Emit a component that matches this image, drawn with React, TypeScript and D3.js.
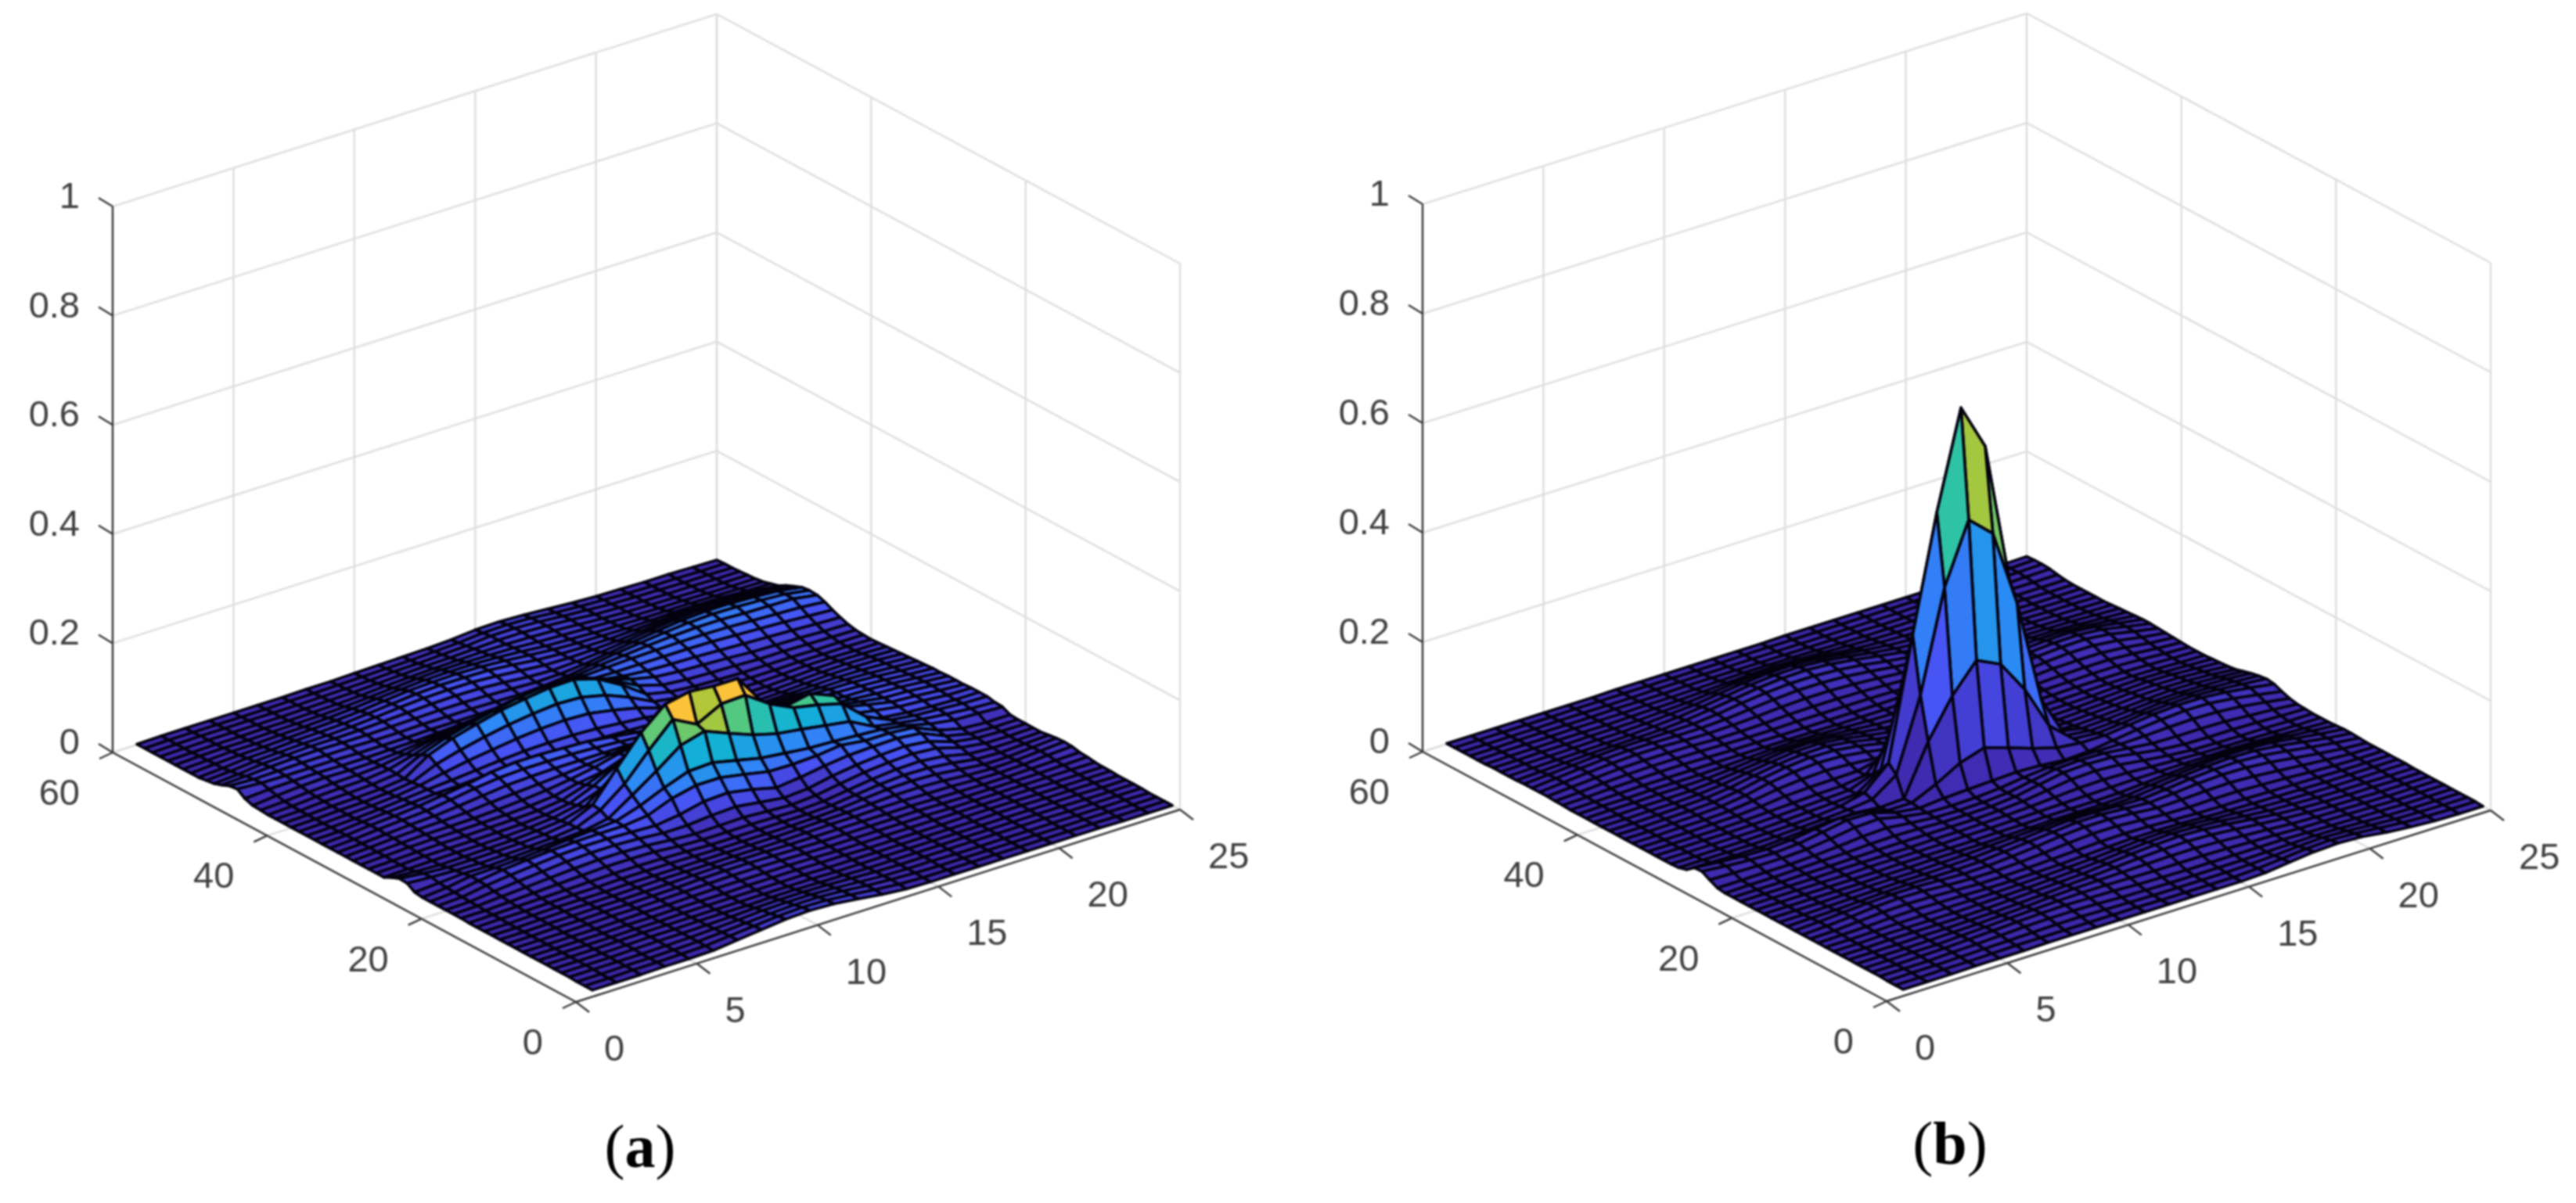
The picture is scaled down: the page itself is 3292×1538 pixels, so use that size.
import React, { useEffect, useRef } from 'react';
import * as d3 from 'd3';

const xTicks = [0, 5, 10, 15, 20, 25];
const yTicks = [0, 20, 40, 60];
const zTicks = [0, 0.2, 0.4, 0.6, 0.8, 1];

// surface heights in thousandths, first row is y = 60, last row is y = 1, columns are x = 1..25
const surfaceA = [
  [1,2,2,2,2,2,2,3,3,4,5,6,7,9,13,14,12,9,6,4,3,2,2,1,0],
  [1,2,2,2,2,2,3,3,4,5,6,7,9,11,15,16,14,10,7,5,3,2,2,1,1],
  [1,2,3,3,3,3,3,4,5,6,8,9,11,13,17,17,15,11,8,5,4,3,2,2,1],
  [1,2,3,3,3,3,4,5,6,8,10,12,13,15,17,17,15,12,8,6,4,3,3,2,2],
  [1,2,3,3,4,4,5,6,8,11,13,15,16,17,17,16,14,11,8,6,5,4,3,3,3],
  [1,3,4,4,5,6,7,9,12,15,18,20,20,19,18,15,13,11,9,7,6,6,5,4,4],
  [1,3,5,5,7,8,10,13,17,20,23,24,24,22,19,15,13,11,10,9,9,9,8,7,6],
  [1,4,6,7,9,11,13,16,21,25,27,28,27,24,20,16,14,13,12,13,14,14,13,11,10],
  [1,4,8,9,12,13,15,19,23,27,29,29,28,24,19,16,15,15,17,19,22,22,20,18,14],
  [3,6,10,12,14,15,17,20,24,27,28,28,25,21,17,16,17,19,23,27,30,31,29,26,22],
  [5,8,13,15,17,17,18,20,22,24,25,24,21,17,15,17,20,25,31,36,39,39,37,34,28],
  [10,12,15,17,18,17,17,18,19,20,20,19,17,15,16,20,26,32,38,43,46,46,44,41,34],
  [16,14,15,16,16,16,15,15,16,16,16,15,14,16,20,27,33,38,43,47,49,48,46,43,36],
  [18,15,14,14,14,13,13,13,14,14,14,15,18,22,28,33,37,41,44,46,46,44,43,42,35],
  [8,11,12,13,12,12,13,14,16,18,22,26,30,33,35,37,39,40,41,41,40,38,36,34,30],
  [3,7,10,12,11,12,15,20,26,31,34,36,38,38,37,36,36,36,36,35,33,31,29,26,23],
  [2,4,7,9,10,13,20,30,38,44,50,52,52,49,43,36,32,30,29,27,25,23,21,19,17],
  [1,3,6,8,9,14,26,40,51,60,68,71,71,66,53,38,28,24,22,20,17,16,15,13,12],
  [1,2,5,6,8,13,34,50,62,72,81,86,86,76,57,34,21,17,15,14,12,12,11,10,9],
  [1,2,4,5,7,12,41,58,70,81,88,94,95,82,57,26,16,12,10,9,9,9,8,8,8],
  [1,2,4,5,8,13,32,44,54,62,68,72,70,60,42,20,13,10,8,7,7,8,8,8,7],
  [1,2,4,6,9,15,24,32,38,44,48,50,48,40,30,16,11,8,7,6,7,9,9,8,8],
  [1,2,4,7,11,15,18,22,26,29,30,30,28,24,20,13,9,7,6,6,8,10,11,10,9],
  [1,2,6,9,12,15,16,19,21,22,22,21,20,18,16,11,9,7,7,8,10,12,13,12,10],
  [1,3,7,10,14,20,26,34,38,38,36,34,28,22,18,13,11,10,10,11,13,15,15,14,11],
  [1,3,7,10,13,19,26,31,33,33,32,30,27,23,18,15,14,14,15,16,17,18,17,15,12],
  [1,3,6,9,11,15,20,25,27,28,28,28,28,27,25,24,23,23,22,22,21,21,19,16,13],
  [1,3,6,8,9,11,15,18,21,24,28,33,38,41,41,40,38,34,30,27,25,24,21,17,14],
  [1,3,5,7,7,8,10,13,17,23,31,42,50,54,56,52,46,40,34,30,27,25,22,18,15],
  [1,3,5,6,6,7,8,10,14,24,30,45,60,65,70,65,55,45,35,30,27,26,23,19,15],
  [1,2,4,5,5,6,7,9,14,28,45,65,80,85,90,80,70,65,45,34,30,26,24,20,16],
  [1,2,4,4,4,5,6,9,16,34,60,90,100,110,110,95,80,80,65,40,33,26,24,20,16],
  [1,2,3,4,4,5,7,11,20,36,70,110,130,135,135,100,85,90,75,45,35,26,23,19,16],
  [8,5,3,4,5,6,9,13,25,60,112,155,168,168,165,115,95,100,85,40,32,25,22,18,17],
  [14,9,6,6,7,8,10,16,36,89,140,178,187,183,183,127,104,113,95,37,27,22,19,17,17],
  [13,10,8,7,8,9,11,16,34,68,115,158,135,158,160,130,109,100,88,50,30,24,21,18,17],
  [4,7,10,9,11,13,15,18,26,55,85,118,130,112,95,83,77,70,63,40,32,25,20,16,14],
  [2,6,13,14,16,19,23,26,29,43,62,78,80,70,60,55,50,48,45,42,35,24,17,15,13],
  [2,5,12,18,22,25,27,28,28,33,50,60,60,52,43,42,44,49,43,43,39,20,9,6,6],
  [2,4,11,16,20,24,26,26,24,22,28,38,40,32,21,26,33,38,40,41,36,17,7,5,5],
  [2,3,8,12,16,20,22,22,20,16,16,20,22,16,10,13,22,28,32,34,29,14,7,5,5],
  [2,3,6,9,12,15,17,17,15,11,8,9,10,7,5,8,15,22,26,28,24,11,5,4,5],
  [2,2,4,6,8,10,12,12,11,7,5,5,5,4,3,5,11,17,21,22,17,7,4,4,5],
  [1,2,3,4,5,6,7,7,6,5,3,3,3,3,3,5,10,15,18,17,12,5,3,5,7],
  [1,2,2,3,4,4,5,5,5,4,3,3,3,3,4,6,10,14,15,13,8,3,3,6,9],
  [1,1,2,3,3,3,4,4,4,4,4,4,4,5,6,7,9,11,11,9,5,3,4,7,10],
  [1,1,2,3,3,3,4,5,5,5,5,5,5,6,7,7,8,8,7,6,4,3,4,7,9],
  [1,1,2,2,3,3,4,5,6,7,7,7,6,6,6,6,6,6,5,4,3,3,4,5,6],
  [1,1,2,2,3,3,4,5,7,8,8,7,6,5,5,5,5,5,4,3,3,3,3,4,5],
  [1,1,1,2,3,3,4,5,6,7,7,6,5,4,4,4,4,4,3,3,3,3,3,3,3],
  [1,1,1,1,2,3,3,4,5,5,5,5,4,3,3,3,3,3,3,3,3,3,2,2,2],
  [1,1,1,1,2,2,3,3,3,4,4,4,3,3,2,2,2,2,3,3,3,2,2,2,2],
  [1,1,1,1,2,2,3,3,3,3,3,3,2,2,2,2,2,2,2,3,3,2,2,2,1],
  [1,1,1,2,3,3,3,3,3,3,3,3,2,2,2,2,2,2,2,2,2,2,2,1,1],
  [1,1,1,2,3,3,4,4,4,5,5,4,3,2,2,2,2,2,2,2,2,2,1,1,1],
  [1,1,1,2,3,3,4,5,7,8,8,7,5,3,2,2,2,2,2,2,2,1,1,1,1],
  [1,1,1,1,2,3,5,7,10,11,11,9,6,3,2,2,1,1,1,1,1,1,1,1,0],
  [0,0,1,1,2,3,6,9,12,14,14,11,7,4,2,1,1,1,1,1,1,1,1,0,0],
  [0,0,1,1,2,3,7,11,15,17,16,12,7,3,1,1,1,1,1,1,1,1,0,0,0],
  [0,0,0,1,1,2,7,12,17,19,17,12,6,2,1,1,1,1,1,1,1,1,0,0,0],
];

const surfaceB = [
  [1,1,1,1,1,1,1,2,2,2,2,2,2,2,3,3,3,3,3,3,3,4,5,7,8],
  [1,1,1,1,1,2,2,2,2,2,2,2,3,3,3,3,3,3,3,3,4,5,6,8,9],
  [1,1,1,1,2,2,2,2,3,3,3,3,3,3,3,3,3,3,3,4,4,5,7,8,9],
  [1,1,2,2,2,2,3,3,3,4,4,4,4,4,4,4,4,3,3,4,4,5,6,7,8],
  [1,2,2,2,3,3,3,4,4,5,6,7,7,7,6,5,4,4,4,4,4,4,5,5,5],
  [1,2,2,3,3,3,4,5,6,8,10,12,13,12,10,8,6,5,4,4,3,3,3,3,3],
  [2,2,3,3,4,4,5,7,9,13,17,20,21,19,15,11,8,6,5,4,3,3,3,2,2],
  [2,3,3,4,5,5,7,10,13,19,24,28,29,26,21,15,10,7,5,4,3,3,2,2,2],
  [2,3,4,5,6,7,9,12,17,23,29,33,34,31,25,18,12,8,6,5,4,3,3,2,2],
  [2,4,6,8,9,10,11,14,19,25,31,35,36,33,27,20,13,9,7,6,5,4,3,3,2],
  [3,6,9,12,14,14,14,15,19,25,30,33,33,30,25,18,12,9,8,7,6,5,4,3,2],
  [3,7,11,14,16,16,15,15,17,21,25,28,28,26,21,15,11,9,8,8,7,6,5,4,3],
  [3,7,11,14,16,16,14,13,14,16,19,21,21,19,16,12,9,9,9,10,10,9,8,6,4],
  [3,6,9,12,13,13,12,10,10,11,13,14,14,13,11,9,8,9,11,13,14,13,11,8,5],
  [2,4,7,9,10,10,9,8,7,7,8,8,8,8,7,7,8,10,14,17,19,19,16,11,6],
  [2,3,5,6,7,7,6,5,5,4,4,4,4,4,5,6,8,12,17,21,24,25,21,14,7],
  [1,2,3,4,4,4,4,4,4,4,4,3,3,3,4,6,9,13,19,24,27,28,24,15,7],
  [1,2,2,3,3,3,4,6,8,9,8,6,4,3,4,6,9,14,19,24,27,28,23,14,6],
  [1,2,2,3,3,4,7,11,14,15,13,9,5,3,3,5,8,12,17,21,24,24,19,11,5],
  [1,1,2,2,3,6,11,16,21,22,18,12,6,3,3,4,6,10,14,17,18,18,14,8,4],
  [1,1,2,2,4,8,15,21,26,27,22,14,7,3,3,3,5,7,10,12,13,13,10,6,3],
  [1,1,2,3,5,10,18,25,29,30,24,15,7,4,3,3,4,5,7,8,9,9,7,4,2],
  [1,1,2,3,5,11,20,27,31,30,24,15,8,4,3,3,3,4,5,6,6,6,5,3,2],
  [1,1,2,3,5,11,20,26,29,27,21,13,8,5,3,3,3,3,4,5,6,6,5,3,2],
  [1,1,2,2,4,9,16,20,22,20,16,14,25,20,10,4,3,3,4,5,7,8,7,5,3],
  [1,1,1,2,3,6,11,13,14,15,25,45,60,50,25,8,4,4,5,7,9,11,10,7,4],
  [1,1,1,1,2,4,6,8,9,15,60,120,160,140,70,15,5,5,7,9,12,13,12,9,5],
  [1,1,1,1,2,3,5,7,9,25,120,250,330,300,160,35,8,7,9,11,14,15,14,11,7],
  [1,1,1,1,1,3,5,7,10,40,207,400,550,500,300,70,12,9,11,13,16,18,17,14,11],
  [1,1,1,1,2,3,5,9,20,60,280,490,667,583,325,110,20,12,14,17,20,21,20,18,15],
  [2,2,2,2,3,5,7,10,15,46,177,360,470,431,290,100,20,15,17,21,25,26,24,21,18],
  [6,5,4,4,6,9,12,12,8,10,100,170,221,200,140,60,22,18,22,27,30,31,28,24,20],
  [17,13,10,9,12,18,24,22,10,10,30,55,69,55,40,27,22,22,27,32,35,35,31,25,18],
  [18,14,11,10,13,20,28,27,14,8,12,14,16,18,16,12,14,20,26,30,33,32,27,20,12],
  [10,9,8,8,10,15,22,24,14,7,6,7,10,16,20,22,22,21,22,24,25,24,20,14,7],
  [3,3,4,4,6,9,13,15,10,6,5,6,9,17,25,27,26,21,16,15,15,14,11,8,4],
  [1,2,2,3,4,5,7,8,7,5,5,6,10,18,26,28,26,19,12,8,7,7,6,4,3],
  [1,1,1,2,2,3,4,4,4,4,4,6,9,15,21,23,20,14,9,5,4,3,3,2,2],
  [1,1,1,1,2,2,2,2,3,3,4,5,7,10,13,14,13,10,8,6,5,4,3,2,2],
  [1,1,1,1,1,2,2,2,2,3,3,4,5,6,7,8,9,9,9,9,9,8,6,4,2],
  [1,1,1,1,1,1,2,2,2,2,3,3,4,4,4,5,8,11,14,16,16,15,11,7,3],
  [1,1,1,1,1,2,2,3,3,3,4,5,6,6,6,8,13,17,21,24,24,21,15,9,4],
  [1,1,1,2,3,3,3,4,5,7,9,11,13,13,11,13,18,23,27,29,28,23,16,9,4],
  [1,1,2,3,4,5,5,6,7,10,13,17,20,20,18,17,21,26,29,30,27,21,14,8,3],
  [1,2,3,5,7,8,7,7,8,12,16,20,24,24,21,18,21,25,27,26,22,16,10,5,2],
  [1,3,6,9,11,11,9,7,8,11,15,20,23,23,20,16,17,19,20,18,14,10,6,3,2],
  [1,3,6,10,12,11,8,6,6,8,11,15,18,18,15,12,11,12,12,10,8,5,3,2,2],
  [1,2,5,8,9,8,6,4,4,5,7,9,11,12,11,9,7,6,6,5,4,3,2,2,2],
  [1,2,3,5,6,5,4,3,3,4,5,7,9,11,11,10,8,6,5,4,3,2,2,2,2],
  [1,1,2,3,3,3,3,3,4,5,7,9,12,15,16,15,12,9,6,4,3,2,2,2,2],
  [1,1,2,2,2,2,3,4,5,7,9,12,16,19,21,19,16,11,7,5,3,2,2,1,1],
  [1,1,2,2,2,2,3,5,7,9,11,15,19,22,24,22,18,13,8,5,3,2,2,1,1],
  [1,1,1,2,2,3,4,6,8,11,13,16,19,21,22,20,16,12,8,5,3,2,1,1,1],
  [1,1,1,2,3,4,6,8,11,13,14,15,16,17,17,15,12,9,6,4,3,2,1,1,1],
  [1,1,2,2,4,6,8,10,12,13,13,12,11,11,11,10,8,7,5,4,3,2,1,1,1],
  [1,1,2,3,5,7,9,11,12,11,10,8,7,6,6,6,6,6,5,4,3,2,1,1,1],
  [1,1,1,3,4,6,8,9,9,8,6,5,4,4,4,4,5,6,7,6,4,2,1,1,1],
  [0,1,1,2,3,4,5,6,6,5,4,3,3,3,3,4,6,9,11,9,6,3,2,1,1],
  [0,0,1,1,2,3,3,3,3,3,3,2,2,2,2,4,8,12,14,12,8,4,2,1,1],
  [0,0,0,1,1,1,2,2,2,2,2,2,2,2,2,4,9,14,16,14,8,4,1,0,0],
];

// parula colormap
const parula = d3.scaleLinear<string>()
  .domain([0, 1 / 7, 2 / 7, 3 / 7, 4 / 7, 5 / 7, 6 / 7, 1])
  .range(['#3e26a8', '#4852f4', '#2e87f7', '#12b1d6', '#37c897', '#abc739', '#fec338', '#f9fb15'])
  .clamp(true);

const panels = [
  { name: 'a', origin: [736, 1281], xEnd: [772, -246], yEnd: [-592, -319], zTop: 698, labelX: 102, cmax: 0.185, surface: surfaceA, caption: [818, 1492] },
  { name: 'b', origin: [2411, 1280], xEnd: [772, -244], yEnd: [-593, -319], zTop: 700, labelX: 1776, cmax: 0.667, surface: surfaceB, caption: [2492, 1488] },
];

export default function App() {
  const svgRef = useRef<SVGSVGElement>(null);

  useEffect(() => {
    if (!svgRef.current) return;
    const svg = d3.select(svgRef.current);
    svg.selectAll('*').remove();

    panels.forEach(p => {
      const g = svg.append('g');
      const xs = d3.scaleLinear().domain([0, 25]).range([0, 1]);
      const ys = d3.scaleLinear().domain([0, 60]).range([0, 1]);
      const zs = d3.scaleLinear().domain([0, 1]).range([0, p.zTop]);
      const project = (x: number, y: number, z: number): [number, number] => [
        p.origin[0] + xs(x) * p.xEnd[0] + ys(y) * p.yEnd[0],
        p.origin[1] + xs(x) * p.xEnd[1] + ys(y) * p.yEnd[1] - zs(z),
      ];
      const line = d3.line();
      const color = d3.scaleLinear().domain([0, p.cmax]).range([0, 1]);

      const gridPaths: [number, number][][] = [];
      xTicks.forEach(x => {
        gridPaths.push([project(x, 60, 0), project(x, 60, 1)]);
        gridPaths.push([project(x, 0, 0), project(x, 60, 0)]);
      });
      yTicks.forEach(y => {
        gridPaths.push([project(25, y, 0), project(25, y, 1)]);
        gridPaths.push([project(0, y, 0), project(25, y, 0)]);
      });
      zTicks.forEach(z => {
        gridPaths.push([project(0, 60, z), project(25, 60, z), project(25, 0, z)]);
      });
      g.append('g').selectAll('path').data(gridPaths).join('path')
        .attr('d', d => line(d))
        .attr('fill', 'none')
        .attr('stroke', '#dedede')
        .attr('stroke-width', 2.5);

      // back to front: the rows run from y = 60 to y = 1
      const quads: { pts: [number, number][]; c: string }[] = [];
      const rows = p.surface;
      for (let r = 0; r < rows.length - 1; r++) {
        const yHi = 60 - r;
        for (let i = rows[r].length - 2; i >= 0; i--) {
          const x = i + 1;
          const lowCorner = rows[r + 1][i] / 1000;
          quads.push({
            pts: [
              project(x, yHi - 1, lowCorner),
              project(x + 1, yHi - 1, rows[r + 1][i + 1] / 1000),
              project(x + 1, yHi, rows[r][i + 1] / 1000),
              project(x, yHi, rows[r][i] / 1000),
            ],
            c: parula(color(lowCorner)),
          });
        }
      }
      g.append('g').selectAll('path').data(quads).join('path')
        .attr('d', d => line(d.pts) + 'Z')
        .attr('fill', d => d.c)
        .attr('stroke', '#04020f')
        .attr('stroke-width', 3.6)
        .attr('stroke-linejoin', 'round');

      const axisColor = '#3a3a3a';
      const axisPaths: [number, number][][] = [
        [project(0, 60, 0), project(0, 60, 1)],
        [project(0, 0, 0), project(25, 0, 0)],
        [project(0, 0, 0), project(0, 60, 0)],
      ];
      zTicks.forEach(z => {
        const a = project(0, 60, z);
        axisPaths.push([a, [a[0] - 18, a[1] - 11]]);
      });
      xTicks.forEach(x => {
        const a = project(x, 0, 0);
        axisPaths.push([a, [a[0] + 17, a[1] + 13]]);
      });
      yTicks.forEach(y => {
        const a = project(0, y, 0);
        axisPaths.push([a, [a[0] - 17, a[1] + 8]]);
      });
      g.append('g').selectAll('path').data(axisPaths).join('path')
        .attr('d', d => line(d))
        .attr('fill', 'none')
        .attr('stroke', axisColor)
        .attr('stroke-width', 2.4);

      const labels = g.append('g')
        .attr('font-family', '"Liberation Sans", Arial, sans-serif')
        .attr('font-size', 47)
        .attr('fill', '#404040');
      zTicks.forEach(z => {
        const a = project(0, 60, z);
        labels.append('text').attr('x', p.labelX).attr('y', a[1] - 15).attr('dy', '0.36em')
          .attr('text-anchor', 'end').text(String(z));
      });
      xTicks.forEach(x => {
        const a = project(x, 0, 0);
        labels.append('text').attr('x', a[0] + 36).attr('y', a[1] + 58).attr('dy', '0.36em').text(String(x));
      });
      yTicks.forEach(y => {
        const a = project(0, y, 0);
        labels.append('text').attr('x', a[0] - 42).attr('y', a[1] + 50).attr('dy', '0.36em')
          .attr('text-anchor', 'end').text(String(y));
      });

      const cap = g.append('text')
        .attr('x', p.caption[0]).attr('y', p.caption[1])
        .attr('text-anchor', 'middle')
        .attr('font-family', '"Liberation Serif", "Times New Roman", serif')
        .attr('font-size', 78)
        .attr('fill', '#000');
      cap.append('tspan').text('(');
      cap.append('tspan').attr('font-weight', 'bold').text(p.name);
      cap.append('tspan').text(')');
    });
  }, []);

  return (
    <div style={{ position: 'fixed', left: 0, top: 0, width: 3292, height: 1538, background: '#fff' }}>
      <svg ref={svgRef} width={3292} height={1538} style={{ display: 'block', filter: 'blur(0.8px)' }} />
    </div>
  );
}
